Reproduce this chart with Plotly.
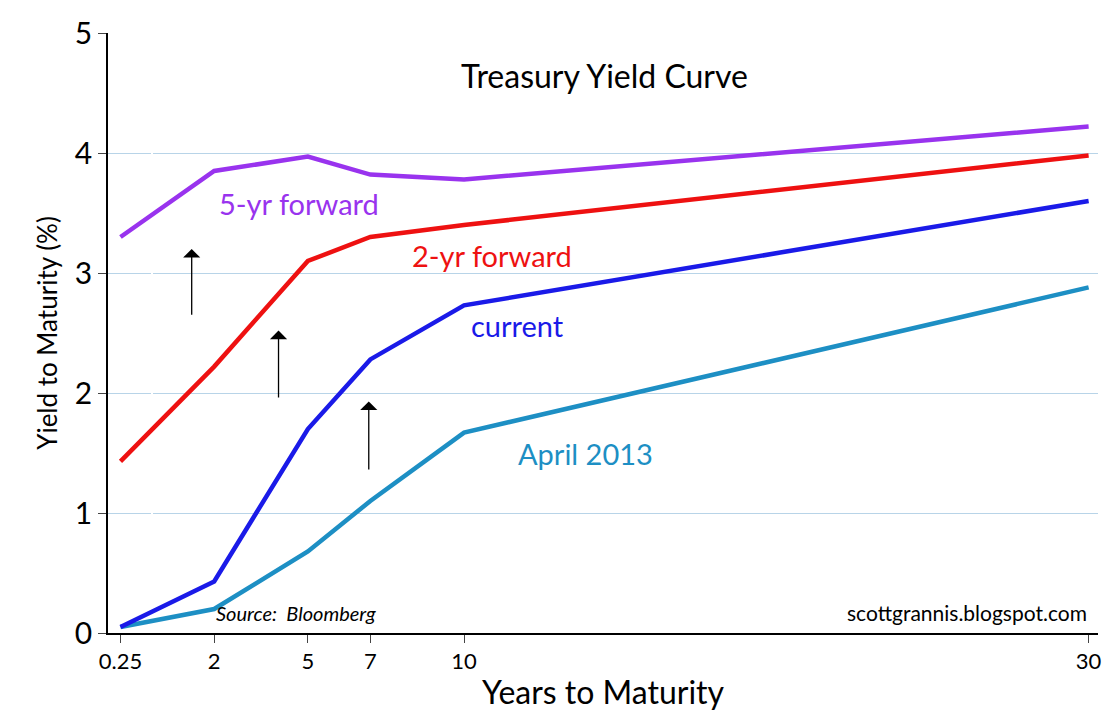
import plotly.graph_objects as go

x_pos = [-1, 2, 5, 7, 10, 30]
tick_labels = ["0.25", "2", "5", "7", "10", "30"]
april_2013 = [0.05, 0.20, 0.68, 1.10, 1.67, 2.88]
current = [0.05, 0.43, 1.70, 2.28, 2.73, 3.60]
fwd_2yr = [1.43, 2.22, 3.10, 3.30, 3.40, 3.98]
fwd_5yr = [3.30, 3.85, 3.97, 3.82, 3.78, 4.22]

F = "Lato"
fig = go.Figure()
for y, c in [(april_2013, "#1d8fc4"), (current, "#1a1ae8"), (fwd_2yr, "#ee1111"), (fwd_5yr, "#9933ee")]:
    fig.add_trace(go.Scatter(x=x_pos, y=y, mode="lines", line=dict(color=c, width=4.5), showlegend=False))

texts = [
    ("5-yr forward", 4.7, 3.58, "#9933ee"),
    ("2-yr forward", 10.9, 3.15, "#ee1111"),
    ("current", 11.7, 2.56, "#1a1ae8"),
    ("April 2013", 13.9, 1.5, "#1d8fc4"),
]
for t, x, y, c in texts:
    fig.add_annotation(x=x, y=y, text=t, showarrow=False, font=dict(family=F, size=29, color=c))
fig.add_annotation(x=14.5, y=4.65, text="Treasury Yield Curve", showarrow=False, font=dict(family=F, size=32, color="black"))
fig.add_annotation(x=2.0, y=0.17, text="<i>Source:  Bloomberg</i>", showarrow=False, xanchor="left", font=dict(family=F, size=20, color="black"))
fig.add_annotation(x=30, y=0.17, text="scottgrannis.blogspot.com", showarrow=False, xanchor="right", font=dict(family=F, size=21, color="black"))

for x, y0, y1 in [(1.28, 2.64, 3.2), (4.06, 1.95, 2.52), (6.95, 1.35, 1.93)]:
    fig.add_annotation(x=x, y=y1, ax=x, ay=y0, xref="x", yref="y", axref="x", ayref="y",
                       text="", showarrow=True, arrowhead=1, arrowsize=2.2, arrowwidth=1.3, arrowcolor="black")

fig.update_layout(
    width=1114, height=718, paper_bgcolor="white", plot_bgcolor="white",
    margin=dict(l=100, r=24, t=25, b=93),
    xaxis=dict(range=[-1.4, 30.3], tickvals=x_pos, ticktext=tick_labels, showgrid=False, automargin=False,
               showline=True, linecolor="black", linewidth=1.5, ticks="outside", ticklen=8,
               tickfont=dict(family=F, size=22, color="black"),
               title=dict(text="Years to Maturity", font=dict(family=F, size=32, color="black"), standoff=8)),
    yaxis=dict(range=[0, 5], tickvals=[0, 1, 2, 3, 4, 5], showgrid=True, gridcolor="#b8d4e8", gridwidth=1,
               automargin=False,
               showline=True, linecolor="black", linewidth=1.5, ticks="outside", ticklen=8, zeroline=False,
               tickfont=dict(family=F, size=30, color="black"),
               title=dict(text="Yield to Maturity (%)", font=dict(family=F, size=26, color="black"), standoff=10)),
)
fig.write_html("out.html")
